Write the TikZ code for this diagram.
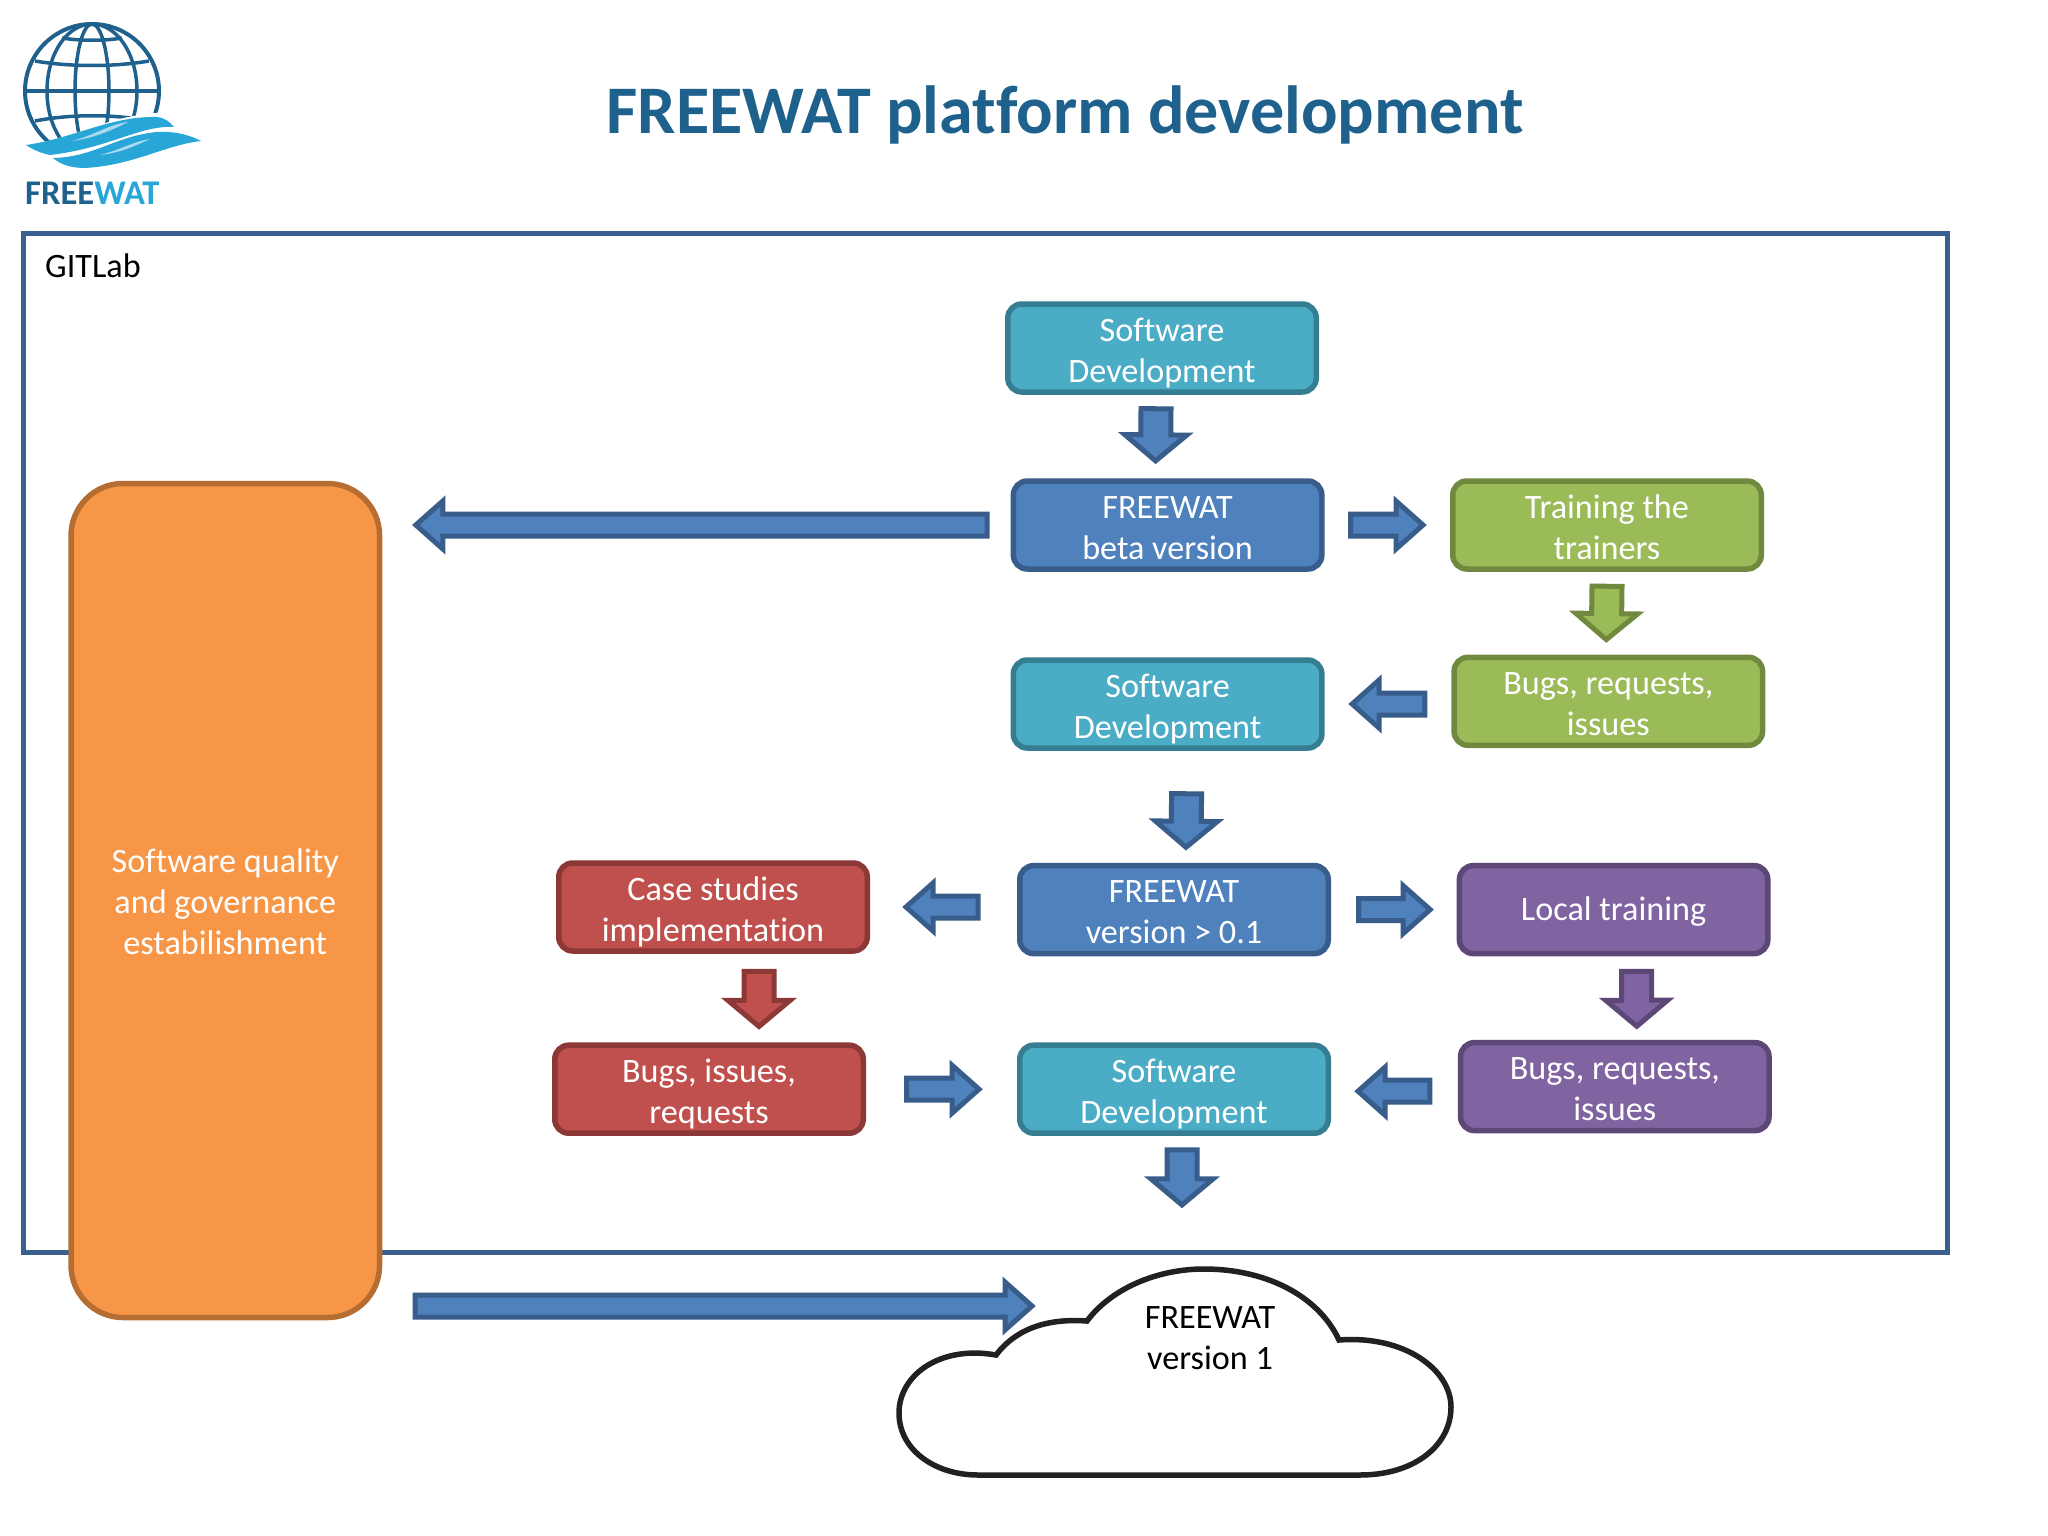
\documentclass[tikz,border=0pt]{standalone}
\usepackage{fontspec}
\setmainfont[Ligatures=NoCommon]{Carlito}
\usetikzlibrary{calc,positioning}
\definecolor{logoblue}{HTML}{1F618D}
\definecolor{wavecol}{HTML}{29A6D8}
\definecolor{wavelight}{HTML}{A9D9EE}
\definecolor{framecol}{HTML}{3A6090}
\definecolor{tealfill}{HTML}{4BACC6}
\definecolor{tealline}{HTML}{357D91}
\definecolor{bluefill}{HTML}{4F81BD}
\definecolor{blueline}{HTML}{385D8A}
\definecolor{greenfill}{HTML}{9BBB59}
\definecolor{greenline}{HTML}{71893F}
\definecolor{redfill}{HTML}{C0504D}
\definecolor{redline}{HTML}{8C3836}
\definecolor{purplefill}{HTML}{8064A2}
\definecolor{purpleline}{HTML}{5C4776}
\definecolor{orangefill}{HTML}{F79646}
\definecolor{orangeline}{HTML}{B66D31}

\begin{document}
\begin{tikzpicture}[
	x=1pt,
	y=-1pt,
	on grid,
	align=center,
	every node/.style={
		font=\fontsize{34.2}{41}\selectfont
	},
	plainbox/.style={
		draw,
		rounded corners=14pt,
		line width=5.5pt,
		text=white,
		minimum width=308.5pt,
		minimum height=88pt,
		inner sep=0pt,
		execute at end node={\rule[-9pt]{0pt}{9pt}}
	},
	stepbox/.style={
		plainbox,
		execute at begin node={\rule{0pt}{77pt}}
	},
	soft/.style={stepbox, draw=tealline, fill=tealfill},
	release/.style={stepbox, draw=blueline, fill=bluefill},
	training/.style={stepbox, draw=greenline, fill=greenfill},
	cases/.style={stepbox, draw=redline, fill=redfill},
	locals/.style={stepbox, draw=purpleline, fill=purplefill},
	blockarrow/.style n args={3}{
		line width=5pt,
		miter limit=10,
		to path={
			($(\tikztostart)!#1!90:(\tikztotarget)$)
			-- ($($(\tikztotarget)!#3!(\tikztostart)$)!#1!90:(\tikztotarget)$)
			-- ($($(\tikztotarget)!#3!(\tikztostart)$)!#2!90:(\tikztotarget)$)
			-- (\tikztotarget)
			-- ($($(\tikztotarget)!#3!(\tikztostart)$)!#2!-90:(\tikztotarget)$)
			-- ($($(\tikztotarget)!#3!(\tikztostart)$)!#1!-90:(\tikztotarget)$)
			-- ($(\tikztostart)!#1!-90:(\tikztotarget)$)
			-- cycle
		}
	},
	sidearrow/.style={blockarrow={11pt}{24pt}{27pt}, draw=blueline, fill=bluefill},
	downarrow/.style={blockarrow={15pt}{31pt}{26pt}, draw=blueline, fill=bluefill},
	greenarrow/.style={blockarrow={15pt}{31pt}{26pt}, draw=greenline, fill=greenfill},
	redarrow/.style={blockarrow={15pt}{31pt}{26pt}, draw=redline, fill=redfill},
	purplearrow/.style={blockarrow={15pt}{31pt}{26pt}, draw=purpleline, fill=purplefill}
	]

	\useasboundingbox (0,0) rectangle (2048,1536);
	\fill[white] (0,0) rectangle (2048,1536);

	\begin{scope}[yshift=-1pt]
		\clip (92,90) circle (70);
		\draw[logoblue, line width=4pt] (92,90) circle (67);
		\foreach \rx in {17,45} {
			\draw[logoblue, line width=3.5pt] (92,90) ellipse [x radius=\rx, y radius=67];
		}
		\draw[logoblue, line width=3.5pt] (25,90) -- (159,90);
		\draw[logoblue, line width=3.5pt] (35,60) .. controls (70,66) and (115,66) .. (149,60);
		\draw[logoblue, line width=3.5pt] (62,37) .. controls (80,40) and (105,40) .. (122,37);
		\draw[logoblue, line width=3.5pt] (35,120) .. controls (70,113) and (115,113) .. (149,120);
	\end{scope}
	\fill[white] (20,146) .. controls (80,138) and (100,118) .. (155,113) -- (175,112) -- (210,140) -- (210,176) -- (20,176) -- cycle;
	\fill[wavecol] (26,145) .. controls (75,138) and (110,116) .. (157,117)
		.. controls (165,118) and (170,122) .. (174,127)
		.. controls (140,125) and (110,148) .. (50,155)
		.. controls (40,153) and (32,149) .. (26,145) -- cycle;
	\fill[wavecol] (53,158) .. controls (95,157) and (115,136) .. (157,132)
		.. controls (175,131) and (190,135) .. (201,141)
		.. controls (165,145) and (135,165) .. (85,168)
		.. controls (70,168) and (60,164) .. (53,158) -- cycle;
	\fill[wavelight] (72,141) .. controls (95,135) and (110,124) .. (128,122)
		.. controls (112,130) and (95,138) .. (72,141) -- cycle;
	\fill[wavelight] (100,155) .. controls (120,150) and (132,142) .. (150,139)
		.. controls (135,146) and (120,153) .. (100,155) -- cycle;
	\node[inner sep=0pt, anchor=west, font=\fontsize{34.6}{34}\selectfont\bfseries] (logotext) at (25,193)
		{\textcolor{logoblue}{FREE}\textcolor{wavecol}{WAT}};

	\node[font=\fontsize{68.1}{72}\selectfont\bfseries, text=logoblue, inner sep=0pt] (title) at (1065,115) {FREEWAT platform development};

	\node[draw=framecol, line width=5pt, minimum width=1924pt, minimum height=1019pt, inner sep=0pt] (frame) at (985.4,743) {};
	\node[anchor=west, inner sep=0pt] (gitlab) at (45,266) {GITLab};

	\node[soft] (sd_1) at (1162,348) {Software\\Development};
	\node[release, below=177pt of sd_1, xshift=5.6pt] (beta) {FREEWAT\\beta version};
	\node[training, right=439.4pt of beta] (train) {Training the\\trainers};
	\node[training, below=176.3pt of train, xshift=1.3pt] (bugs_g) {Bugs, requests,\\issues};
	\node[soft, below=179pt of beta] (sd_2) {Software\\Development};
	\node[release, below=205.6pt of sd_2, xshift=6.4pt] (vers) {FREEWAT\\version > 0.1};
	\node[plainbox, draw=purpleline, fill=purplefill, right=439.6pt of vers, execute at begin node={\rule{0pt}{31.5pt}}] (local) {Local training};
	\node[locals, below=177pt of local, xshift=1.2pt] (bugs_p) {Bugs, requests,\\issues};
	\node[soft, below=179.6pt of vers] (sd_3) {Software\\Development};
	\node[cases, left=461pt of vers, yshift=2.6pt] (case) {Case studies\\implementation};
	\node[cases, left=465pt of sd_3] (bugs_r) {Bugs, issues,\\requests};
	\node[plainbox, draw=orangeline, fill=orangefill, minimum height=834pt, rounded corners=52pt, execute at begin node={\rule{0pt}{116pt}}] (quality) at (225.3,900.5) {Software quality\\and governance\\estabilishment};

	\coordinate (sd_out) at ($(sd_3.south)+(8,69)$);
	\coordinate (cloud_in) at (1032,1306);

	\draw[downarrow] ($(sd_1.south)+(-6,14)$) to ($(beta.north)+(-12,-17.4)$);
	\draw[sidearrow] ($(beta.west)+(-23.5,0)$) to ($(quality.east |- beta.west)+(33.5,0)$);
	\draw[sidearrow] ($(beta.east)+(26,0)$) to ($(train.west)+(-27,0)$);
	\draw[greenarrow] ($(train.south)+(0,14.5)$) to ($(bugs_g.north)+(-2,-15)$);
	\draw[sidearrow] ($(bugs_g.west |- sd_2.east)+(-26.5,0)$) to ($(sd_2.east)+(27.5,0)$);
	\draw[downarrow] ($(sd_2.south)+(19,43)$) to ($(vers.north)+(12,-15.6)$);
	\draw[sidearrow] ($(vers.east)+(27.5,0)$) to ($(local.west)+(-26.5,0)$);
	\draw[sidearrow] ($(vers.west |- case.east)+(-38.9,0)$) to ($(case.east)+(36,0)$);
	\draw[redarrow] ($(case.south)+(46,17.5)$) to ($(bugs_r.north)+(50,-16)$);
	\draw[purplearrow] ($(local.south)+(23,15)$) to ($(bugs_p.north)+(22,-13.6)$);
	\draw[sidearrow] ($(bugs_r.east)+(40.5,0)$) to ($(sd_3.west)+(-38,0)$);
	\draw[sidearrow] ($(bugs_p.west |- sd_3.east)+(-27.9,2)$) to ($(sd_3.east)+(27,2)$);
	\draw[downarrow] ($(sd_3.south)+(8,14)$) to (sd_out);
	\draw[sidearrow] ($(quality.east |- cloud_in)+(32.9,0)$) to (cloud_in);

	\draw[draw=black!87, fill=white, line width=5.5pt] (978,1475) -- (1360,1475)
		.. controls (1415,1475) and (1451,1445) .. (1451,1407)
		.. controls (1451,1370) and (1405,1335) .. (1339,1340)
		.. controls (1318,1295) and (1265,1269) .. (1204,1269)
		.. controls (1155,1269) and (1110,1290) .. (1087,1321)
		.. controls (1045,1318) and (1015,1330) .. (996,1355)
		.. controls (940,1345) and (899,1375) .. (899,1413)
		.. controls (899,1450) and (935,1475) .. (978,1475) -- cycle;
	\node[inner sep=0pt] (final) at (1210,1338) {FREEWAT\\version 1};
\end{tikzpicture}
\end{document}
